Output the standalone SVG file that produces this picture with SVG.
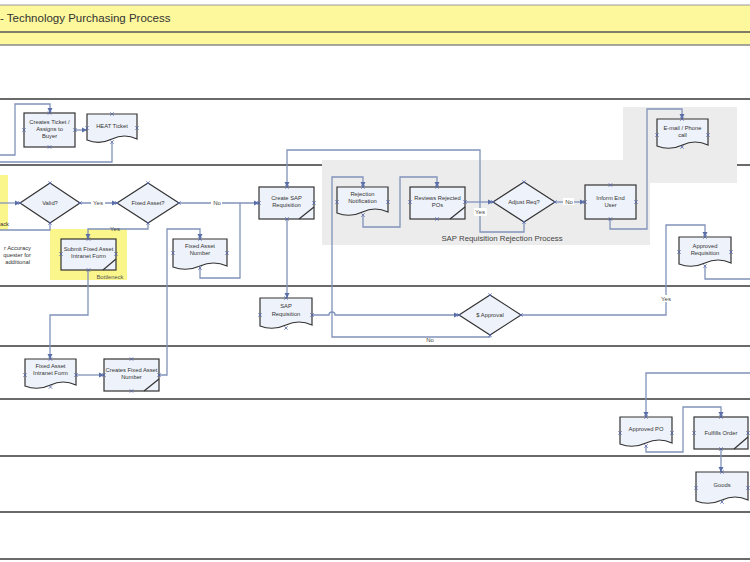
<svg xmlns="http://www.w3.org/2000/svg" xmlns:xlink="http://www.w3.org/1999/xlink" width="750" height="562" viewBox="0 0 750 562">
<defs>
<style>
.lane{stroke:#6a6a6a;stroke-width:2;fill:none}
.box{fill:#eef2fa;stroke:#333;stroke-width:1.2}
.diag{stroke:#333;stroke-width:1.2;fill:none}
.t{font-family:"Liberation Sans",Arial,sans-serif;font-size:5.8px;fill:#333;text-anchor:middle}
.lbl{font-family:"Liberation Sans",Arial,sans-serif;font-size:6px;fill:#444;text-anchor:middle}
.c{fill:none;stroke:#8093bb;stroke-width:1.3}
.ca{fill:none;stroke:#8093bb;stroke-width:1.3;marker-end:url(#ah)}
.lb{fill:#fff}
</style>
<marker id="ah" markerWidth="6" markerHeight="6" refX="5" refY="3" orient="auto" markerUnits="userSpaceOnUse">
<path d="M0,0.5L5,3L0,5.5Z" fill="#5a6fa8"/>
</marker>
<g id="x"><path d="M-1.7,-1.7L1.7,1.7M1.7,-1.7L-1.7,1.7" stroke="#5566aa" stroke-width="0.8" fill="none"/></g>
</defs>
<rect x="0" y="0" width="750" height="562" fill="#fff"/>
<!-- header -->
<rect x="0" y="5" width="750" height="40" fill="#fdf89c"/>
<line x1="0" y1="5" x2="750" y2="5" stroke="#9a9a9a" stroke-width="1"/>
<line x1="0" y1="32" x2="750" y2="32" stroke="#555" stroke-width="1.5"/>
<line x1="0" y1="45" x2="750" y2="45" stroke="#888" stroke-width="1.5"/>
<text x="0" y="22" font-family="Liberation Sans, Arial, sans-serif" font-size="11.5" fill="#333">- Technology Purchasing Process</text>
<!-- lanes -->
<g id="lanes">
<line class="lane" x1="0" y1="99" x2="750" y2="99"/>
<line class="lane" x1="0" y1="165" x2="750" y2="165"/>
<line class="lane" x1="0" y1="286" x2="750" y2="286"/>
<line class="lane" x1="0" y1="346" x2="750" y2="346"/>
<line class="lane" x1="0" y1="399" x2="750" y2="399"/>
<line class="lane" x1="0" y1="456" x2="750" y2="456"/>
<line class="lane" x1="0" y1="512" x2="750" y2="512"/>
<line class="lane" x1="0" y1="559" x2="750" y2="559"/>
</g>
<!-- grey rejection region -->
<g id="rejection-region">
<path d="M623,107H737V183H650V245H322V160H623Z" fill="#ececec"/>
<text x="502" y="241" font-family="Liberation Sans, Arial, sans-serif" font-size="7.8" fill="#444" text-anchor="middle">SAP Requisition Rejection Process</text>
</g>
<!-- highlights -->
<rect x="0" y="175" width="8" height="55" fill="#fbf68c"/>
<rect x="50" y="229" width="77" height="51" fill="#fbf68c"/>
<text x="0" y="226" class="t" style="text-anchor:start">ack</text>
<text x="31" y="250" class="t" style="text-anchor:end">r Accuracy</text>
<text x="31" y="257" class="t" style="text-anchor:end">quester for</text>
<text x="30" y="264" class="t" style="text-anchor:end">additional</text>
<text x="110" y="279" class="t" style="fill:#555">Bottleneck</text>
<!-- connectors -->
<g id="connectors">
<path class="ca" d="M0,155H15V104H50V113"/>
<path class="ca" d="M75,130H87"/>
<path class="c" d="M112,143V162H0"/>
<path class="ca" d="M0,203H20"/>
<path class="c" d="M50,223V230H0"/>
<path class="ca" d="M80,203H117"/>
<path class="ca" d="M148,223V229H88V239"/>
<path class="ca" d="M178,203H259"/>
<path class="c" d="M200,268V278H240V203"/>
<path class="ca" d="M159,375H167V229H200V239"/>
<path class="ca" d="M88,270V315H50V359"/>
<path class="ca" d="M76,375H104"/>
<path class="ca" d="M287,219V298"/>
<path class="ca" d="M312,315H329A3,3 0 0 1 335,315H459"/>
<path class="ca" d="M490,335V337H332V177H363V187"/>
<path class="ca" d="M363,216V227H400V177H437V187"/>
<path class="ca" d="M465,202H493"/>
<path class="ca" d="M524,222V232H480V150H287V187"/>
<path class="ca" d="M555,202H585"/>
<path class="ca" d="M610,219V229H647V109H682V119"/>
<path class="ca" d="M521,315H666V225H705V237"/>
<path class="c" d="M705,267V279H750"/>
<path class="ca" d="M750,373H646V417"/>
<path class="ca" d="M646,447V452H683V407H721V417"/>
<path class="ca" d="M721,449V472"/>
<rect class="lb" x="91" y="199" width="14" height="7"/><text class="lbl" x="98" y="205">Yes</text>
<text class="lbl" x="115" y="231">Yes</text>
<rect class="lb" x="211" y="199" width="11" height="7"/><text class="lbl" x="217" y="205">No</text>
<rect class="lb" x="474" y="208" width="13" height="8"/><text class="lbl" x="480" y="214">Yes</text>
<rect class="lb" x="563" y="198" width="11" height="7"/><text class="lbl" x="569" y="204">No</text>
<text class="lbl" x="430" y="342">No</text>
<rect class="lb" x="659" y="295" width="14" height="7"/><text class="lbl" x="666" y="301">Yes</text>
</g>
<!-- nodes -->
<g id="n-creates-ticket">
<rect class="box" x="24" y="113" width="51" height="34"/>
<text class="t" x="49.5" y="124">Creates Ticket /</text>
<text class="t" x="49.5" y="131">Assigns to</text>
<text class="t" x="49.5" y="138">Buyer</text>
<use href="#x" x="49.5" y="113"/><use href="#x" x="49.5" y="147"/><use href="#x" x="24" y="130"/><use href="#x" x="75" y="130"/>
</g>
<g id="n-heat-ticket">
<path class="box" d="M87,114H137V139Q124.5,133 112,139T87,140Z"/>
<text class="t" x="112" y="128">HEAT Ticket</text>
<use href="#x" x="112" y="114"/><use href="#x" x="112" y="142"/><use href="#x" x="87" y="128"/><use href="#x" x="137" y="128"/>
</g>
<g id="n-valid">
<path class="box" d="M50,183L80,203L50,223L20,203Z"/>
<text class="t" x="50" y="205">Valid?</text>
<use href="#x" x="50" y="183"/><use href="#x" x="50" y="223"/><use href="#x" x="20" y="203"/><use href="#x" x="80" y="203"/>
</g>
<g id="n-fixed-asset-q">
<path class="box" d="M148,183L179,203L148,223L117,203Z"/>
<text class="t" x="148" y="205">Fixed Asset?</text>
<use href="#x" x="148" y="183"/><use href="#x" x="148" y="223"/><use href="#x" x="117" y="203"/><use href="#x" x="179" y="203"/>
</g>
<g id="n-submit-form">
<rect class="box" x="61" y="239" width="55" height="31"/>
<path class="diag" d="M103,270L116,259"/>
<text class="t" x="88.5" y="251">Submit Fixed Asset</text>
<text class="t" x="88.5" y="258">Intranet Form</text>
<use href="#x" x="88.5" y="239"/><use href="#x" x="88.5" y="270"/><use href="#x" x="61" y="254"/><use href="#x" x="116" y="254"/>
</g>
<g id="n-fixed-asset-number">
<path class="box" d="M173,239H227V266Q213.5,260 200,266T173,267Z"/>
<text class="t" x="200" y="248">Fixed Asset</text>
<text class="t" x="200" y="255">Number</text>
<use href="#x" x="200" y="239"/><use href="#x" x="200" y="268"/><use href="#x" x="173" y="253"/><use href="#x" x="227" y="253"/>
</g>
<g id="n-fa-intranet-form">
<path class="box" d="M25,359H76V385Q63,379 50.5,385T25,386Z"/>
<text class="t" x="50.5" y="368">Fixed Asset</text>
<text class="t" x="50.5" y="375">Intranet Form</text>
<use href="#x" x="50.5" y="359"/><use href="#x" x="50.5" y="387"/><use href="#x" x="25" y="375"/><use href="#x" x="76" y="375"/>
</g>
<g id="n-creates-fa-number">
<rect class="box" x="104" y="359" width="55" height="32"/>
<path class="diag" d="M144,391L159,379"/>
<text class="t" x="131.5" y="372">Creates Fixed Asset</text>
<text class="t" x="131.5" y="379">Number</text>
<use href="#x" x="131.5" y="359"/><use href="#x" x="131.5" y="391"/><use href="#x" x="104" y="375"/><use href="#x" x="159" y="375"/>
</g>
<g id="n-create-sap">
<rect class="box" x="259" y="187" width="55" height="32"/>
<path class="diag" d="M299,219L314,207"/>
<text class="t" x="286.5" y="200">Create SAP</text>
<text class="t" x="286.5" y="207">Requisition</text>
<use href="#x" x="287" y="187"/><use href="#x" x="287" y="219"/><use href="#x" x="259" y="203"/><use href="#x" x="314" y="203"/>
</g>
<g id="n-rejection-notification">
<path class="box" d="M337,187H388V212Q375,206 362.5,212T337,213Z"/>
<text class="t" x="362.5" y="196">Rejection</text>
<text class="t" x="362.5" y="203">Notification</text>
<use href="#x" x="363" y="187"/><use href="#x" x="363" y="215"/><use href="#x" x="337" y="202"/><use href="#x" x="388" y="202"/>
</g>
<g id="n-reviews-rejected">
<rect class="box" x="410" y="187" width="55" height="32"/>
<path class="diag" d="M450,219L465,207"/>
<text class="t" x="437.5" y="200">Reviews Rejected</text>
<text class="t" x="437.5" y="207">POs</text>
<use href="#x" x="437" y="187"/><use href="#x" x="437" y="219"/><use href="#x" x="410" y="202"/><use href="#x" x="465" y="202"/>
</g>
<g id="n-adjust-req">
<path class="box" d="M524,182L555,202L524,222L493,202Z"/>
<text class="t" x="524" y="204">Adjust Req?</text>
<use href="#x" x="524" y="182"/><use href="#x" x="524" y="222"/><use href="#x" x="493" y="202"/><use href="#x" x="555" y="202"/>
</g>
<g id="n-inform-user">
<rect class="box" x="585" y="185" width="51" height="34"/>
<text class="t" x="610.5" y="200">Inform End</text>
<text class="t" x="610.5" y="207">User</text>
<use href="#x" x="610.5" y="185"/><use href="#x" x="610.5" y="219"/><use href="#x" x="585" y="202"/><use href="#x" x="636" y="202"/>
</g>
<g id="n-email-phone">
<path class="box" d="M657,119H708V145Q695,139 682.5,145T657,146Z"/>
<text class="t" x="682.5" y="130">E-mail / Phone</text>
<text class="t" x="682.5" y="137">call</text>
<use href="#x" x="682" y="119"/><use href="#x" x="682" y="147"/><use href="#x" x="657" y="135"/><use href="#x" x="708" y="135"/>
</g>
<g id="n-sap-requisition">
<path class="box" d="M260,298H312V325Q299,319 286,325T260,326Z"/>
<text class="t" x="286" y="308">SAP</text>
<text class="t" x="286" y="316">Requisition</text>
<use href="#x" x="286" y="298"/><use href="#x" x="286" y="328"/><use href="#x" x="260" y="315"/><use href="#x" x="312" y="315"/>
</g>
<g id="n-approval">
<path class="box" d="M490,295L521,315L490,335L459,315Z"/>
<text class="t" x="490" y="317">$ Approval</text>
<use href="#x" x="490" y="295"/><use href="#x" x="490" y="335"/><use href="#x" x="459" y="315"/><use href="#x" x="521" y="315"/>
</g>
<g id="n-approved-requisition">
<path class="box" d="M679,237H731V263Q718,257 705,263T679,264Z"/>
<text class="t" x="705" y="248">Approved</text>
<text class="t" x="705" y="255">Requisition</text>
<use href="#x" x="705" y="237"/><use href="#x" x="705" y="266"/><use href="#x" x="679" y="252"/><use href="#x" x="731" y="252"/>
</g>
<g id="n-approved-po">
<path class="box" d="M620,417H672V443Q659,437 646,443T620,444Z"/>
<text class="t" x="646" y="431">Approved PO</text>
<use href="#x" x="646" y="417"/><use href="#x" x="646" y="446"/><use href="#x" x="620" y="433"/><use href="#x" x="672" y="433"/>
</g>
<g id="n-fulfills-order">
<rect class="box" x="694" y="417" width="54" height="32"/>
<path class="diag" d="M734,449L748,437"/>
<text class="t" x="721" y="435">Fulfills Order</text>
<use href="#x" x="721" y="417"/><use href="#x" x="721" y="449"/><use href="#x" x="694" y="433"/><use href="#x" x="748" y="433"/>
</g>
<g id="n-goods">
<path class="box" d="M696,472H748V500Q735,494 722,500T696,501Z"/>
<text class="t" x="722" y="487">Goods</text>
<use href="#x" x="722" y="472"/><use href="#x" x="722" y="502"/><use href="#x" x="696" y="488"/><use href="#x" x="748" y="488"/>
</g>
</svg>
